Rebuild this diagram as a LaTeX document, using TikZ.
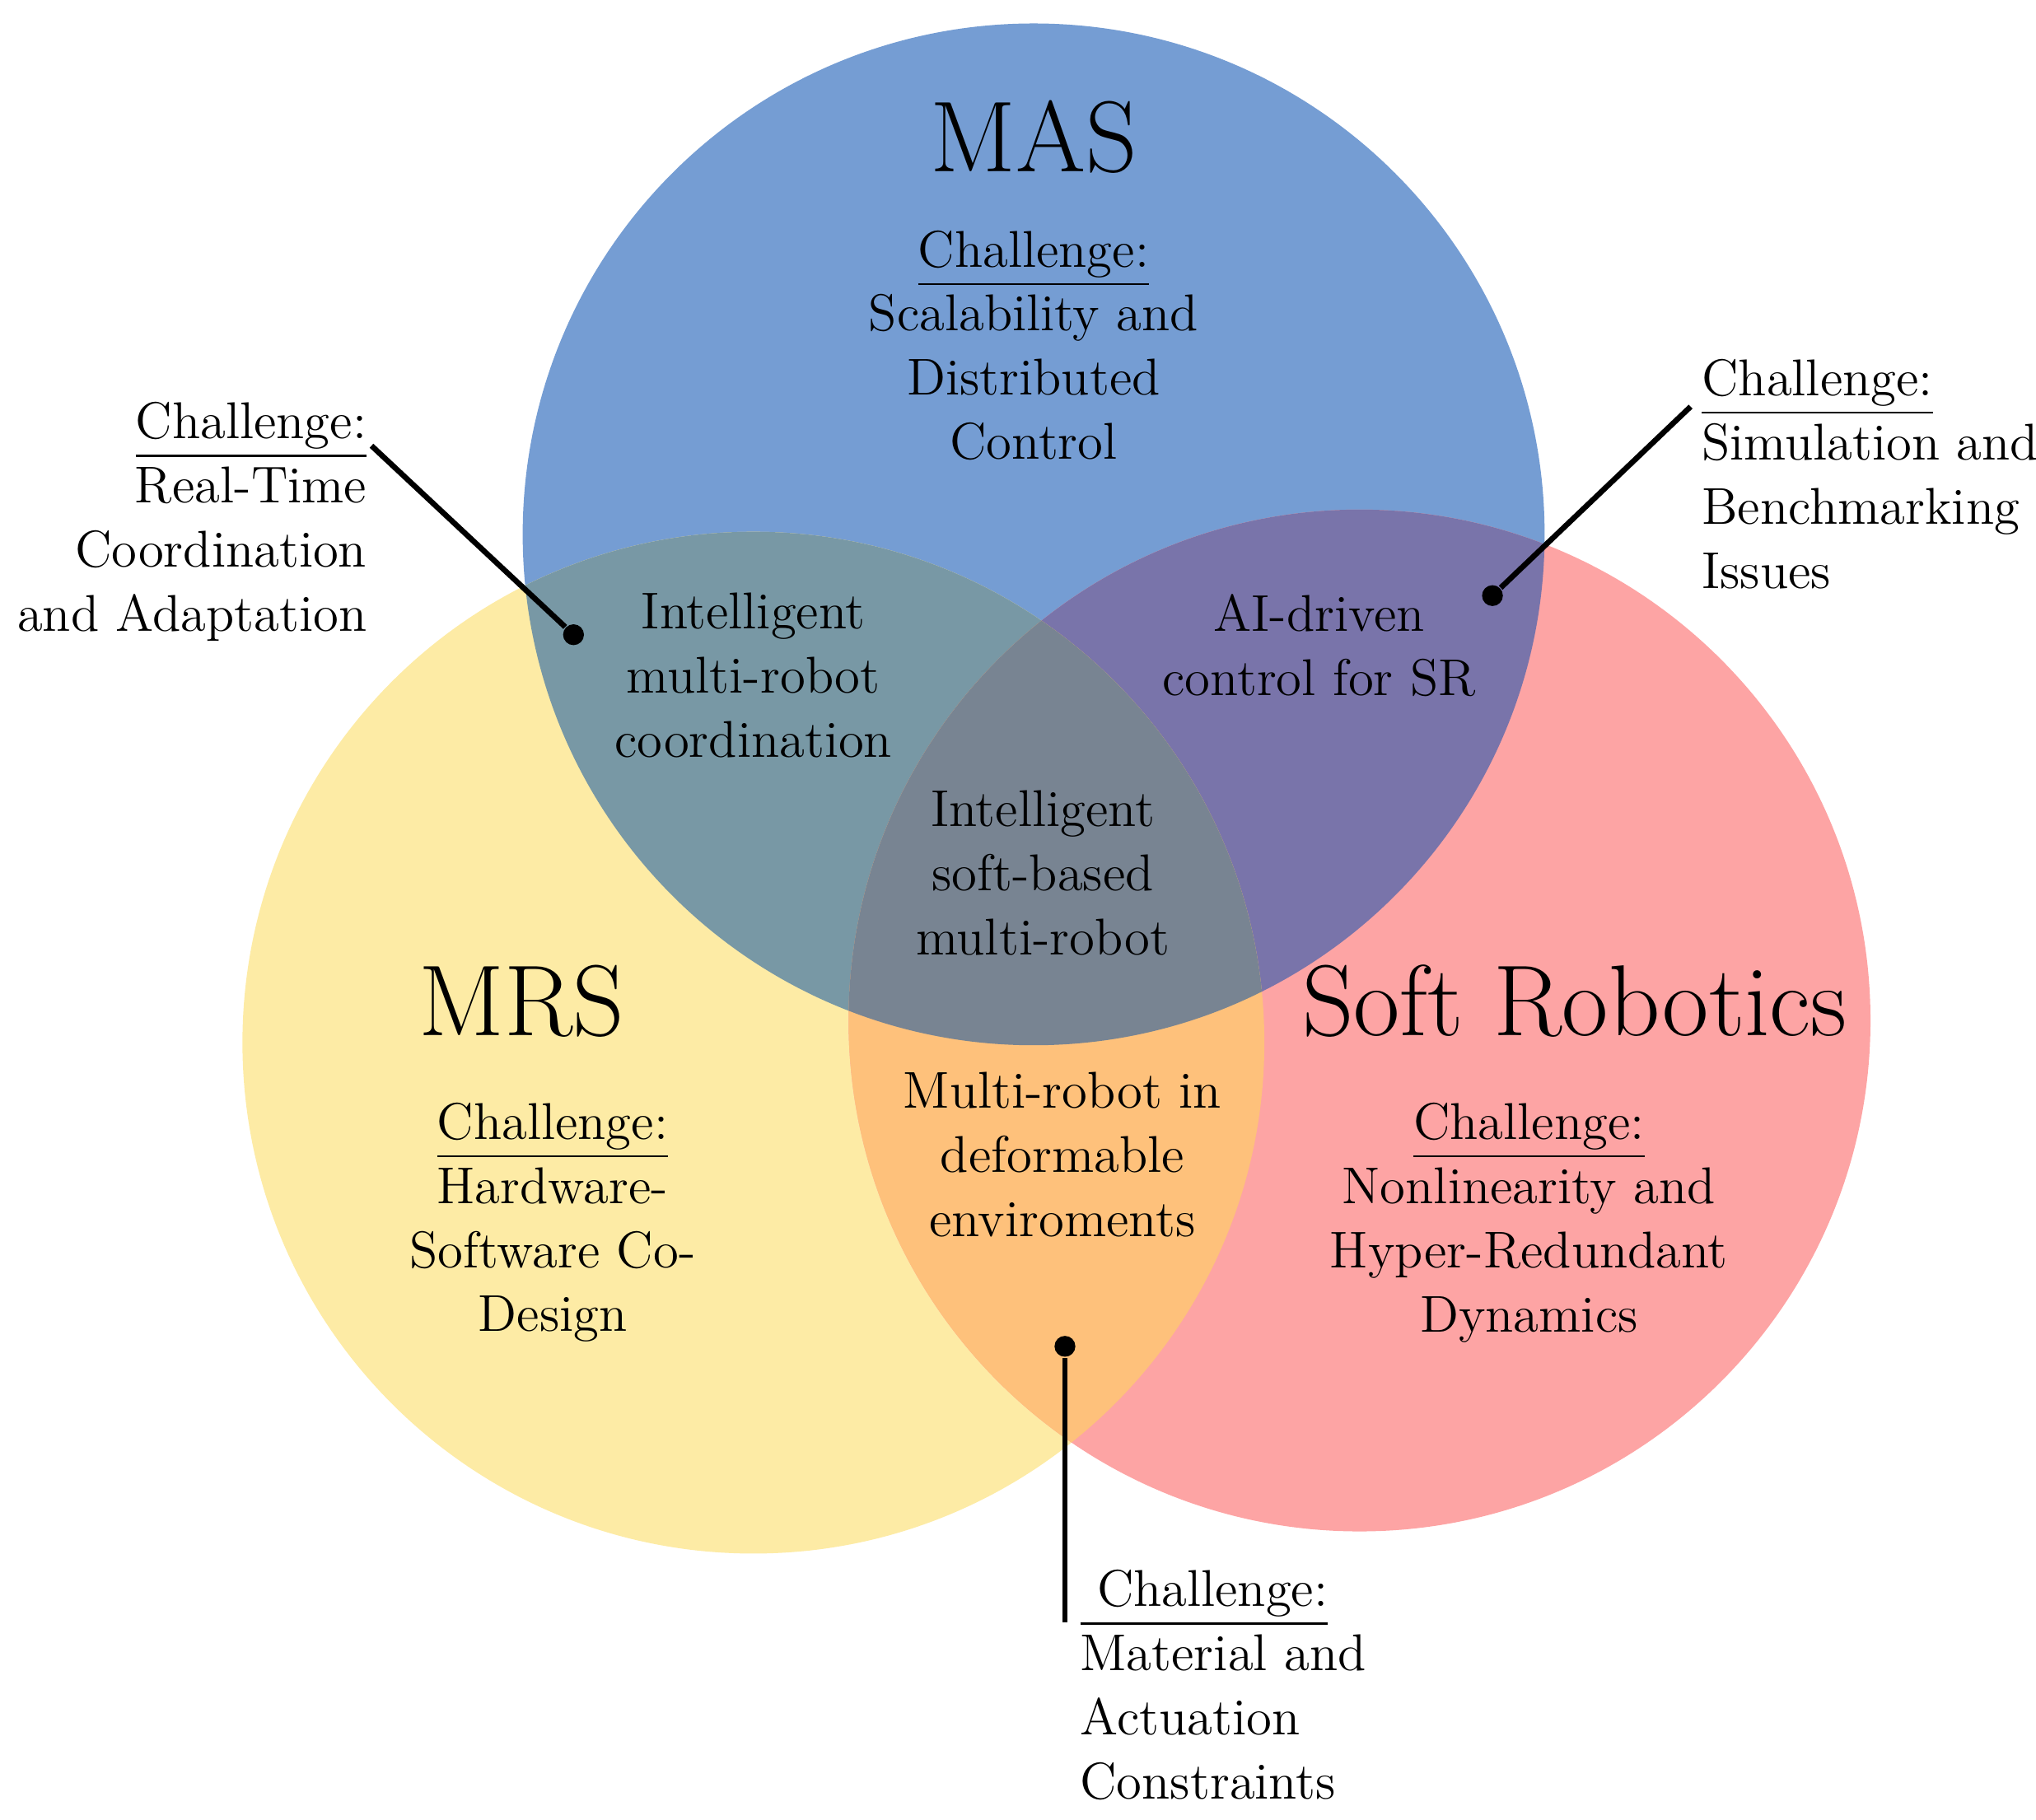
\documentclass[tikz,border=0pt]{standalone}
\usetikzlibrary{positioning}
\definecolor{masblue}{RGB}{117,157,211}
\definecolor{mrsyellow}{RGB}{253,235,165}
\definecolor{srpink}{RGB}{253,164,164}
\definecolor{masmrs}{RGB}{120,152,165}
\definecolor{massr}{RGB}{121,116,170}
\definecolor{mrssr}{RGB}{254,193,123}
\definecolor{allthree}{RGB}{120,132,146}
\begin{document}
\begin{tikzpicture}
\tikzset{
  label/.style={align=center, font=\fontsize{11.3}{14}\selectfont},
  labelr/.style={align=right, inner sep=0pt, font=\fontsize{11.3}{14}\selectfont},
  labell/.style={align=left, inner sep=0pt, font=\fontsize{11.3}{14}\selectfont},
  title/.style={font=\fontsize{22}{26}\selectfont},
  dot/.style={circle, fill=black, inner sep=0pt, minimum size=0.16cm},
  pointer/.style={draw, line width=1.2pt}
}
\useasboundingbox (0,0) rectangle (15.62,13.96);
\def\rad{3.92}
\coordinate (mas) at (7.93,9.86);
\coordinate (mrs) at (5.78,5.96);
\coordinate (sr) at (10.43,6.13);

% circles
\fill[masblue] (mas) circle (\rad);
\fill[mrsyellow] (mrs) circle (\rad);
\fill[srpink] (sr) circle (\rad);
% overlaps
\begin{scope}
  \clip (mas) circle (\rad);
  \fill[masmrs] (mrs) circle (\rad);
  \fill[massr] (sr) circle (\rad);
\end{scope}
\begin{scope}
  \clip (mrs) circle (\rad);
  \fill[mrssr] (sr) circle (\rad);
  \clip (mas) circle (\rad);
  \fill[allthree] (sr) circle (\rad);
\end{scope}

% titles
\node[title] (mastitle) at (7.93,12.91) {MAS};
\node[title] (mrstitle) at (4.00,6.28) {MRS};
\node[title] (srtitle) at (12.08,6.28) {Soft Robotics};

% challenges inside circles
\node[label] (masch) at (7.93,11.31) {\underline{Challenge:}\\Scalability and\\Distributed\\Control};
\node[label] (mrsch) at (4.24,4.58) {\underline{Challenge:}\\Hardware-\\Software Co-\\Design};
\node[label] (srch) at (11.73,4.58) {\underline{Challenge:}\\Nonlinearity and\\Hyper-Redundant\\Dynamics};

% intersections
\node[label] (masmrsl) at (5.78,8.78) {Intelligent\\multi-robot\\coordination};
\node[label] (massrl) at (10.12,9.01) {AI-driven\\control for SR};
\node[label] (alll) at (8.00,7.26) {Intelligent\\soft-based\\multi-robot};
\node[label] (mrssrl) at (8.15,5.10) {Multi-robot in\\deformable\\enviroments};

% callouts
\node[labelr, anchor=north east] (leftch) at (2.82,10.88) {\underline{Challenge:}\\Real-Time\\Coordination\\and Adaptation};
\node[dot] (leftdot) at (4.40,9.09) {};
\coordinate (leftend) at (2.85,10.54);
\draw[pointer] (leftend) -- (leftdot);

\node[labell, anchor=north west] (rightch) at (13.05,11.21) {\underline{Challenge:}\\Simulation and\\Benchmarking\\Issues};
\node[dot] (rightdot) at (11.45,9.39) {};
\coordinate (rightend) at (12.97,10.84);
\draw[pointer] (rightend) -- (rightdot);

\node[labell, anchor=north west] (bottomch) at (8.28,1.92) {\underline{\ Challenge:}\\Material and\\Actuation\\Constraints};
\node[dot] (bottomdot) at (8.17,3.63) {};
\coordinate (bottomend) at (8.17,1.51);
\draw[pointer] (bottomdot) -- (bottomend);
\end{tikzpicture}
\end{document}
